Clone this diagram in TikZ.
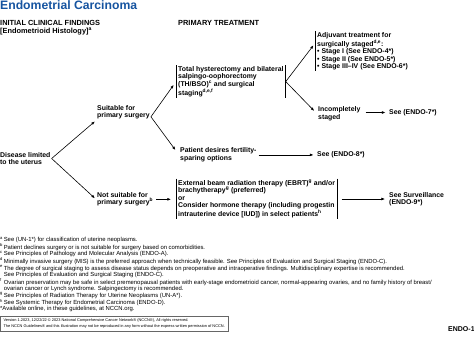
\documentclass[tikz,border=0pt]{standalone}
\usepackage{fontspec}
\setmainfont{Liberation Sans}
\usetikzlibrary{arrows.meta, calc, positioning}
\definecolor{nccnblue}{RGB}{22,84,160}
\tikzset{
    hdr/.style={font=\fontsize{7.4}{8.2}\selectfont\bfseries, align=left, inner sep=0pt},
    txt/.style={font=\fontsize{6.9}{7.4}\selectfont\bfseries, align=left, anchor=west, inner xsep=1pt, inner ysep=1pt},
    brk/.style={txt, inner xsep=2pt},
    arr/.style={-{Latex[length=3.6pt,width=2.8pt]}, line width=0.6pt, draw=black},
    bar/.style={line width=0.6pt},
    note/.style={font=\fontsize{5.9}{6.5}\selectfont, align=left, anchor=north west, inner sep=0pt}
}
\newcommand{\fnm}[1]{\makebox[3.6pt][l]{\textsuperscript{#1}}}
\newcommand{\sups}[1]{\textsuperscript{#1}}

\begin{document}
\begin{tikzpicture}[x=1pt,y=-1pt]
    \useasboundingbox (0,0) rectangle (474,338);

    % Title and column heads
    \node[font=\fontsize{12.2}{13}\selectfont\bfseries, text=nccnblue, anchor=base west, inner sep=0pt] (title) at (0,9.3) {Endometrial Carcinoma};
    \node[hdr, anchor=north west] (initfind) at (0,20.2) {INITIAL CLINICAL FINDINGS\\{[Endometrioid Histology]\sups{a}}};
    \node[hdr, anchor=base west] (primtreat) at (178,25.5) {PRIMARY TREATMENT};

    % Left column
    \node[txt] (disease) at (-1,158.5) {Disease limited\\to the uterus};

    % Second column
    \node[txt] (suitable) at (96,112.3) {Suitable for\\primary surgery};
    \node[txt] (notsuit) at (96,199.3) {Not suitable for\\primary surgery\sups{b}};

    % Treatment boxes
    \node[brk] (totalhyst) at (176,81.6) {Total hysterectomy and bilateral\\salpingo-oophorectomy\\(TH/BSO)\sups{c} and surgical\\staging\sups{d,e,f}};
    \node[txt] (fertility) at (179,154.9) {Patient desires fertility-\\sparing options};
    \node[brk] (ebrt) at (176,199) {External beam radiation therapy (EBRT)\sups{g} and/or\\brachytherapy\sups{g} (preferred)\\or\\Consider hormone therapy (including progestin\\intrauterine device [IUD]) in select patients\sups{h}};

    % Right column
    \node[brk] (adjuvant) at (315,51.3) {Adjuvant treatment for\\surgically staged\sups{d,e}:\\\textbullet\ Stage I (See ENDO-4*)\\\textbullet\ Stage II (See ENDO-5*)\\\textbullet\ Stage III--IV (See ENDO-6*)};
    \node[txt] (incomplete) at (317,113.8) {Incompletely\\staged};
    \node[txt] (endo7) at (388,112.5) {See (ENDO-7*)};
    \node[txt] (endo8) at (316,155) {See (ENDO-8*)};
    \node[txt] (surveil) at (388,199.3) {See Surveillance\\(ENDO-9*)};

    % Bracket bars
    \draw[bar] (totalhyst.north west) -- (totalhyst.south west);
    \draw[bar] (totalhyst.north east) -- (totalhyst.south east);
    \draw[bar] (adjuvant.north west) -- (adjuvant.south west);
    \draw[bar] (ebrt.north west) -- (ebrt.south west);
    \draw[bar] (ebrt.north east) -- (ebrt.south east);

    % Arrows
    \coordinate (split2) at ([yshift=-4.5pt]suitable.east);
    \draw[arr, shorten >=1.5pt] (disease.east) -- (suitable.south west);
    \draw[arr, shorten >=1.5pt] (disease.east) -- (notsuit.west);
    \draw[arr, shorten >=4pt] (split2) -- (totalhyst.west);
    \draw[arr, shorten >=6pt] (split2) -- (fertility.west);
    \draw[arr, shorten >=2.5pt] (totalhyst.east) -- ($(adjuvant.north west)!.3!(adjuvant.south west)$);
    \draw[arr, shorten >=4pt] (totalhyst.east) -- (incomplete.west);
    \draw[arr, shorten <=4pt, shorten >=2.5pt] (incomplete.east |- endo7.west) -- (endo7.west);
    \draw[arr, shorten <=1pt, shorten >=2.5pt] (fertility.east) -- (fertility.east -| endo8.west);
    \draw[arr, shorten <=2pt, shorten >=5pt] (notsuit.east) -- (notsuit.east -| ebrt.west);
    \draw[arr, shorten <=4.5pt, shorten >=3pt] (ebrt.east) -- (ebrt.east -| surveil.west);

    % Footnotes
    \node[note] (notes) at (0,236.6) {\fnm{a}See (UN-1*) for classification of uterine neoplasms.\\
        \fnm{b}Patient declines surgery or is not suitable for surgery based on comorbidities.\\
        \fnm{c}See Principles of Pathology and Molecular Analysis (ENDO-A).\\
        \fnm{d}Minimally invasive surgery (MIS) is the preferred approach when technically feasible. See Principles of Evaluation and Surgical Staging (ENDO-C).\\
        \fnm{e}The degree of surgical staging to assess disease status depends on preoperative and intraoperative findings. Multidisciplinary expertise is recommended.\\
        \hspace*{3.6pt}See Principles of Evaluation and Surgical Staging (ENDO-C).\\
        \fnm{f}Ovarian preservation may be safe in select premenopausal patients with early-stage endometrioid cancer, normal-appearing ovaries, and no family history of breast/\\
        \hspace*{3.6pt}ovarian cancer or Lynch syndrome. Salpingectomy is recommended.\\
        \fnm{g}See Principles of Radiation Therapy for Uterine Neoplasms (UN-A*).\\
        \fnm{h}See Systemic Therapy for Endometrial Carcinoma (ENDO-D).};
    \node[note, anchor=base west] (avail) at (0,310) {*Available online, in these guidelines, at NCCN.org.};

    % Copyright box and page number
    \node[draw=black!60, line width=0.4pt, font=\fontsize{3.9}{6}\selectfont, align=left, anchor=north west, inner xsep=3pt, inner ysep=3pt] (copybox) at (0.3,315.5) {Version 1.2023, 12/22/22 \textcopyright\ 2023 National Comprehensive Cancer Network\textregistered\ (NCCN\textregistered), All rights reserved.\\The NCCN Guidelines\textregistered\ and this illustration may not be reproduced in any form without the express written permission of NCCN.};
    \node[font=\fontsize{7}{8}\selectfont\bfseries, anchor=base west, inner sep=0pt] (pagenum) at (448,331.5) {ENDO-1};
\end{tikzpicture}
\end{document}
